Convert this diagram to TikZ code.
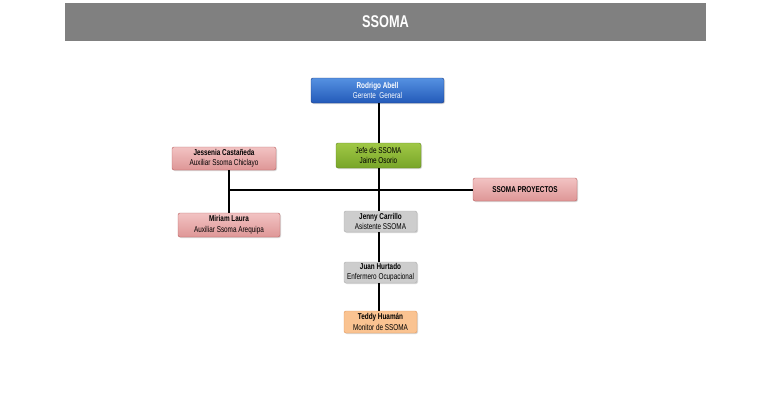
\documentclass[tikz,border=0pt]{standalone}
\usepackage{fontspec}
\setmainfont{Liberation Sans}[FakeStretch=0.75]
\usetikzlibrary{shadows}
\definecolor{barGray}{RGB}{128,128,128}
\definecolor{blueTop}{RGB}{85,145,225}
\definecolor{blueBot}{RGB}{35,90,185}
\definecolor{blueLine}{RGB}{30,60,130}
\definecolor{greenTop}{RGB}{160,200,70}
\definecolor{greenBot}{RGB}{120,165,40}
\definecolor{pinkTop}{RGB}{242,195,195}
\definecolor{pinkBot}{RGB}{222,150,150}
\definecolor{pinkLine}{RGB}{185,95,95}
\definecolor{grayBox}{RGB}{205,205,205}
\definecolor{orangeBox}{RGB}{250,195,145}
\definecolor{orangeLine}{RGB}{225,150,90}
\tikzset{
  box/.style={rounded corners=2pt, inner sep=0pt, align=center,
    font=\fontsize{8.5}{10.5}\selectfont, drop shadow={shadow xshift=1pt, shadow yshift=-1pt, opacity=0.3}},
  bluebox/.style={box, top color=blueTop, bottom color=blueBot, draw=blueLine, text=white},
  greenbox/.style={box, top color=greenTop, bottom color=greenBot, draw=greenBot!80!black},
  pinkbox/.style={box, top color=pinkTop, bottom color=pinkBot, draw=pinkLine},
  graybox/.style={box, fill=grayBox, draw=grayBox!85!black},
  orangebox/.style={box, fill=orangeBox, draw=orangeLine},
  link/.style={black, line width=1.4pt}
}
\begin{document}
\begin{tikzpicture}[x=1pt, y=-1pt]
  \useasboundingbox (0,0) rectangle (768,418);

  % Title bar
  \fill[barGray] (65,3) rectangle (706,41);
  \node[text=white, font=\fontsize{17}{19}\selectfont\bfseries] (title) at (385.5,22) {SSOMA};

  % Boxes
  \node[bluebox, minimum width=133pt, minimum height=25pt] (rodrigo) at (377.5,90.5)
    {\textbf{Rodrigo Abell}\\Gerente\ \ General};
  \node[greenbox, minimum width=85pt, minimum height=25pt] (jefe) at (378.5,155.5)
    {Jefe de SSOMA\\Jaime Osorio};
  \node[pinkbox, minimum width=104pt, minimum height=23pt] (jessenia) at (224,158.5)
    {\textbf{Jessenia Castañeda}\\Auxiliar Ssoma Chiclayo};
  \node[pinkbox, minimum width=102pt, minimum height=24pt] (miriam) at (229,225)
    {\textbf{Miriam Laura}\\Auxiliar Ssoma Arequipa};
  \node[pinkbox, minimum width=104pt, minimum height=23pt] (proyectos) at (525,189.5)
    {\textbf{SSOMA PROYECTOS}};
  \node[graybox, minimum width=73pt, minimum height=21pt] (jenny) at (380.5,221.5)
    {\textbf{Jenny Carrillo}\\Asistente SSOMA};
  \node[graybox, minimum width=73pt, minimum height=21pt] (juan) at (380.5,272.5)
    {\textbf{Juan Hurtado}\\Enfermero Ocupacional};
  \node[orangebox, minimum width=73pt, minimum height=22pt] (teddy) at (380.5,322)
    {\textbf{Teddy Huamán}\\Monitor de SSOMA};

  % Connectors
  \coordinate (hub) at (379,190);
  \coordinate (lhub) at (229,190);
  \draw[link] (rodrigo.south -| hub) -- (jefe.north -| hub);
  \draw[link] (jefe.south -| hub) -- (jenny.north -| hub);
  \draw[link] (jenny.south -| hub) -- (juan.north -| hub);
  \draw[link] (juan.south -| hub) -- (teddy.north -| hub);
  \draw[link] (jessenia.south -| lhub) -- (miriam.north -| lhub);
  \draw[link] (lhub) -- (lhub -| proyectos.west);
\end{tikzpicture}
\end{document}
